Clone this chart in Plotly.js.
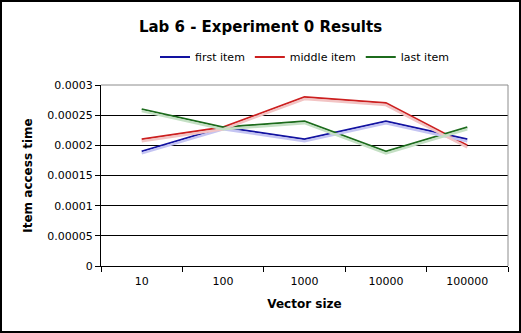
<!DOCTYPE html>
<html>
<head>
<meta charset="utf-8">
<script src="https://cdn.plot.ly/plotly-3.0.1.min.js"></script>
<style>
  html, body {margin: 0; padding: 0; background: #fff;}
  #chart {width: 521px; height: 333px; box-sizing: border-box; border: 2px solid #000;}
</style>
</head>
<body>
<div id="chart"></div>
<script>
  // chart values
  const vectorSizes = ["10", "100", "1000", "10000", "100000"]
  const firstItem = [0.00019, 0.00023, 0.00021, 0.00024, 0.00021]
  const middleItem = [0.00021, 0.00023, 0.00028, 0.00027, 0.00020]
  const lastItem = [0.00026, 0.00023, 0.00024, 0.00019, 0.00023]
  const yTickVals = [0, 0.00005, 0.0001, 0.00015, 0.0002, 0.00025, 0.0003]
  const yTickText = ["0", "0.00005", "0.0001", "0.00015", "0.0002", "0.00025", "0.0003"]

  const series = [
    {name: "first item", y: firstItem, color: "#1212a0", shadow: "#c4c4f2"},
    {name: "middle item", y: middleItem, color: "#cc1f1f", shadow: "#f2c4c4"},
    {name: "last item", y: lastItem, color: "#1c6b1c", shadow: "#c4e0c4"}
  ]

  const font = "DejaVu Sans, Verdana, sans-serif"
  const yRange = [0, 0.0003]
  // shadow axis: same scale, shifted ~2px down
  const px = (yRange[1] - yRange[0]) / 181
  const shadowRange = [yRange[0] + 2 * px, yRange[1] + 2 * px]

  const data = []
  for (const s of series) {
    data.push({
      x: vectorSizes, y: s.y, xaxis: "x", yaxis: "y2", type: "scatter", mode: "lines",
      showlegend: false, hoverinfo: "skip", line: {color: s.shadow, width: 2.5}
    })
  }
  for (const s of series) {
    data.push({
      x: vectorSizes, y: s.y, type: "scatter", mode: "lines", name: s.name,
      line: {color: s.color, width: 2}
    })
  }

  const layout = {
    width: 517, height: 329,
    paper_bgcolor: "#fff", plot_bgcolor: "#fff",
    margin: {l: 99, r: 11, t: 83, b: 65},
    font: {family: font, size: 11, color: "#000"},
    title: {
      text: "<b>Lab 6 - Experiment 0 Results</b>",
      font: {family: font, size: 15, color: "#000"},
      x: 0.5, xref: "container", xanchor: "center",
      y: 0.925, yref: "container", yanchor: "middle"
    },
    showlegend: true,
    legend: {
      orientation: "h", x: 0.5, xanchor: "center", y: 1.155, yanchor: "middle",
      font: {family: font, size: 11}, itemwidth: 30, tracegroupgap: 0
    },
    xaxis: {
      type: "category", range: [-0.5, 4.5], tickson: "boundaries",
      ticks: "outside", ticklen: 5, tickcolor: "#000",
      showline: true, linecolor: "#000", linewidth: 1,
      showgrid: false, zeroline: false,
      tickfont: {family: font, size: 11}, ticklabelstandoff: 5,
      title: {text: "<b>Vector size</b>", font: {family: font, size: 12}, standoff: 12}
    },
    yaxis: {
      range: yRange, tickvals: yTickVals, ticktext: yTickText,
      ticks: "outside", ticklen: 5, tickcolor: "#000",
      showline: true, linecolor: "#000", linewidth: 1,
      showgrid: true, gridcolor: "#000", gridwidth: 1, zeroline: false,
      tickfont: {family: font, size: 11},
      title: {text: "<b>Item access time</b>", font: {family: font, size: 12}, standoff: 12}
    },
    yaxis2: {
      overlaying: "y", range: shadowRange, visible: false, showgrid: false, zeroline: false
    },
    shapes: [
      {type: "line", xref: "paper", yref: "paper", x0: 0, x1: 1, y0: 1, y1: 1, line: {color: "#8c8c8c", width: 1}},
      {type: "line", xref: "paper", yref: "paper", x0: 1, x1: 1, y0: 0, y1: 1, line: {color: "#8c8c8c", width: 1}}
    ]
  }

  Plotly.newPlot("chart", data, layout, {displayModeBar: false, staticPlot: true})
</script>
</body>
</html>
